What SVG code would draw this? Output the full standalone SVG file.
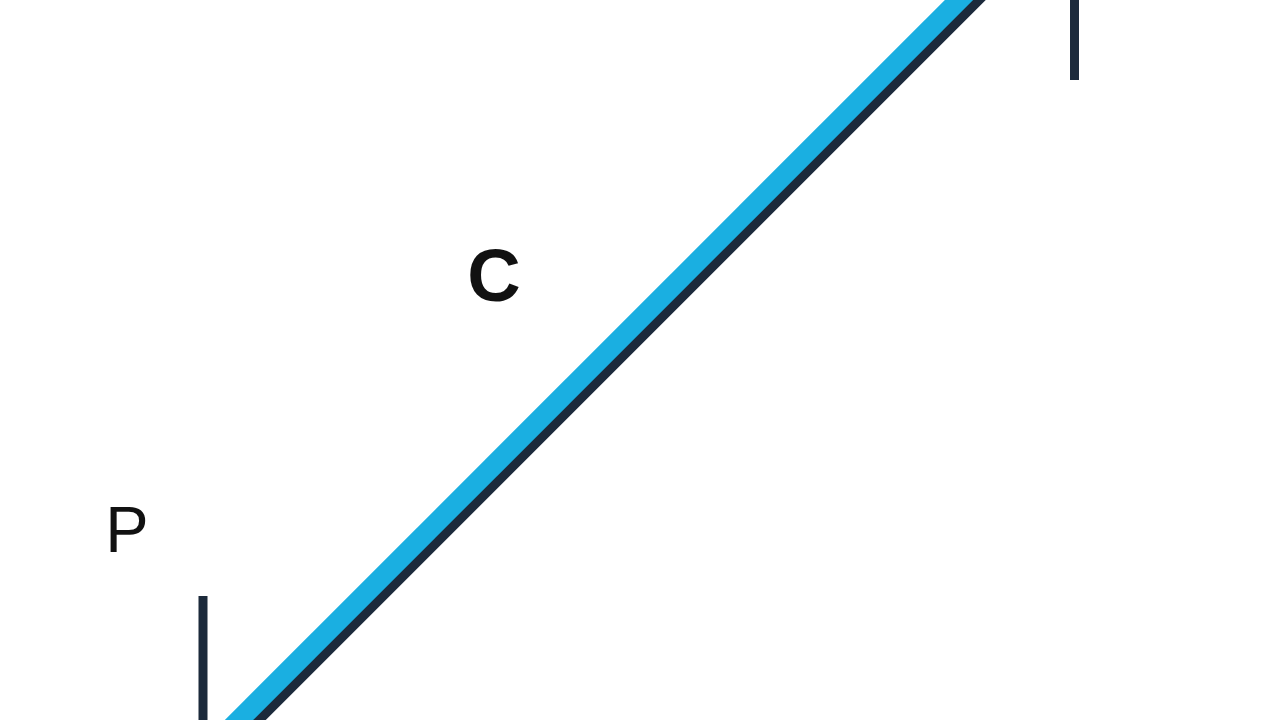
<svg xmlns="http://www.w3.org/2000/svg" width="1280" height="720" viewBox="0 0 1280 720">
  <style>
    .tick { stroke: #1c2a3b; stroke-width: 9; fill: none; }
    .shadow { stroke: #1c2a3b; stroke-width: 11; fill: none; }
    .beam { stroke: #1aafe1; stroke-width: 20; fill: none; }
    .label { font-family: "Liberation Sans", Arial, sans-serif; fill: #111111; text-anchor: middle; }
  </style>
  <rect width="1280" height="720" fill="#ffffff"/>
  <g id="connectors">
    <line class="shadow" x1="988" y1="-10" x2="248" y2="730"/>
    <line class="beam" x1="969" y1="-10" x2="229" y2="730"/>
  </g>
  <g id="tick-left">
    <line class="tick" x1="203" y1="596" x2="203" y2="725"/>
  </g>
  <g id="tick-right">
    <line class="tick" x1="1074.5" y1="-5" x2="1074.5" y2="80"/>
  </g>
  <g id="label-c">
    <text class="label" x="494" y="301" font-size="74" font-weight="bold">C</text>
  </g>
  <g id="label-p">
    <text class="label" x="127" y="552" font-size="65">P</text>
  </g>
</svg>
